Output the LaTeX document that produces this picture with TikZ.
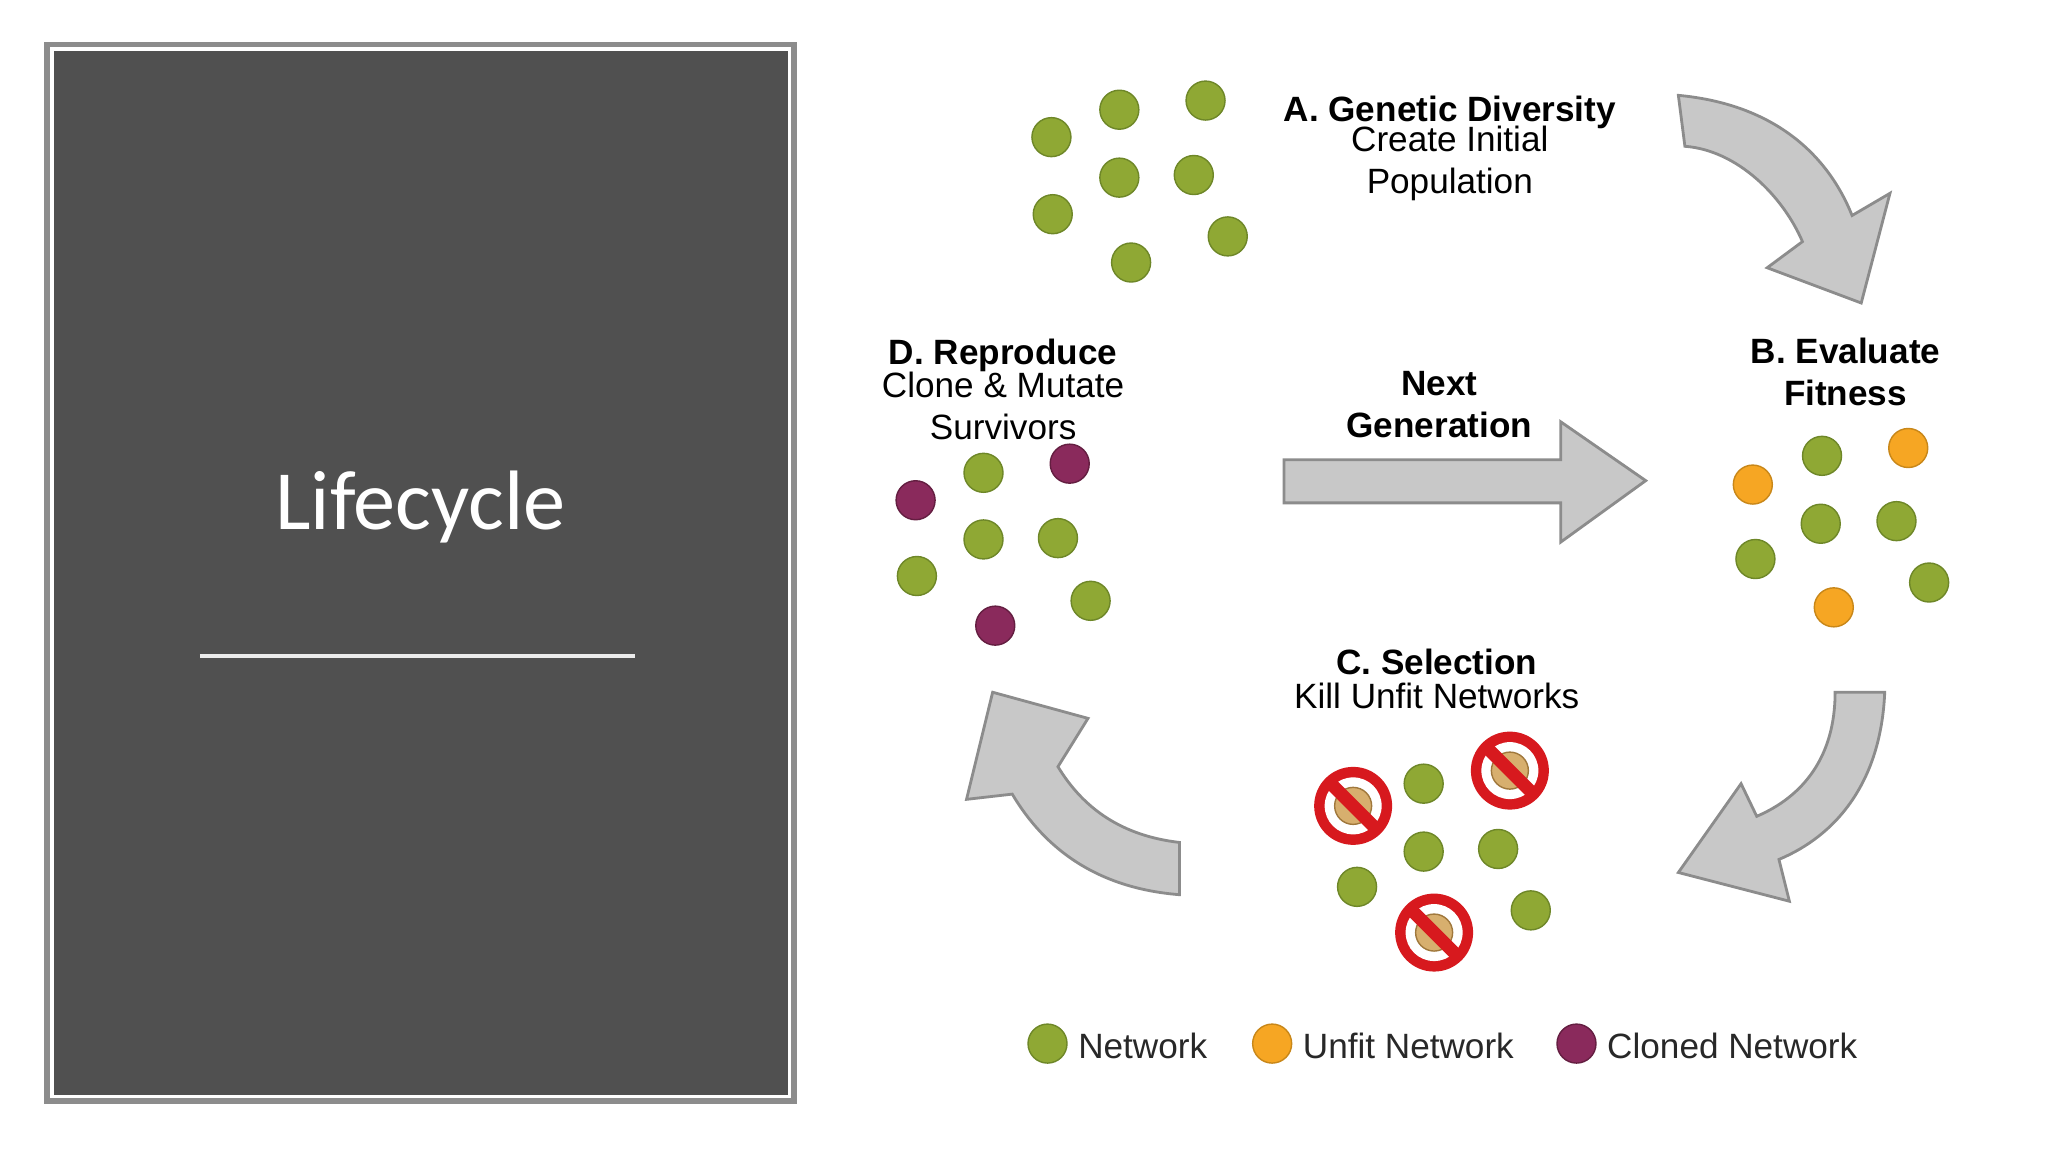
\documentclass[tikz,border=0pt]{standalone}
\usepackage{fontspec}
\setmainfont{Liberation Sans}
\newfontfamily\carl{Carlito}
\definecolor{frame}{RGB}{140,140,140}
\definecolor{panel}{RGB}{80,80,80}
\definecolor{arrfill}{RGB}{200,200,200}
\definecolor{arrline}{RGB}{140,140,140}
\definecolor{gfill}{RGB}{143,168,52}
\definecolor{gline}{RGB}{110,135,40}
\definecolor{ofill}{RGB}{246,166,35}
\definecolor{oline}{RGB}{200,135,25}
\definecolor{pfill}{RGB}{138,42,92}
\definecolor{pline}{RGB}{100,30,65}
\definecolor{tanc}{RGB}{215,175,110}
\definecolor{tanline}{RGB}{160,120,60}
\definecolor{legtext}{RGB}{40,40,40}
\definecolor{killred}{RGB}{215,25,30}
\begin{document}
\begin{tikzpicture}[x=0.013061cm,y=-0.013061cm,
  gdot/.style={circle,minimum size=0.39cm,inner sep=0,fill=gfill,draw=gline,line width=0.4pt},
  odot/.style={gdot,fill=ofill,draw=oline},
  pdot/.style={gdot,fill=pfill,draw=pline},
  bigarrow/.style={fill=arrfill,draw=arrline,line width=0.8pt},
  lbl/.style={font=\fontsize{10}{12}\selectfont,align=center,inner sep=0},
  blbl/.style={lbl,font=\fontsize{10}{12}\selectfont\bfseries},
  leg/.style={font=\fontsize{10}{12}\selectfont,anchor=west,inner sep=0,text=legtext}]
\useasboundingbox (0,0) rectangle (1568,882);
\fill[white] (0,0) rectangle (1568,882);
% left panel
\draw[frame,line width=1.5pt] (36,34) rectangle (608,843);
\fill[panel] (41,39) rectangle (603,838);
\node[text=white,font=\carl\fontsize{24}{28}\selectfont] (title) at (322,388) {Lifecycle};
\coordinate (l1) at (153,502); \coordinate (l2) at (486,502);
\draw[white!85!gray,line width=1.2pt] (l1) -- (l2);
% arrows
\path[bigarrow] (1285,73) .. controls (1360,80) and (1400,120) .. (1418,165) -- (1447,148) -- (1425,232) -- (1353,205) -- (1380,185) .. controls (1365,150) and (1330,115) .. (1290,112) -- cycle;
\path[bigarrow] (1443,530) .. controls (1440,600) and (1405,640) .. (1362,658) -- (1370,690) -- (1285,668) -- (1333,600) -- (1345,625) .. controls (1380,610) and (1405,580) .. (1405,530) -- cycle;
\path[bigarrow] (903,685) .. controls (840,680) and (800,650) .. (775,608) -- (740,612) -- (760,530) -- (833,550) -- (810,587) .. controls (830,620) and (860,640) .. (903,645) -- cycle;
\path[bigarrow] (983,352) -- (1195,352) -- (1195,323) -- (1260,368) -- (1195,415) -- (1195,385) -- (983,385) -- cycle;
% texts
\node[blbl] (ta) at (1110,86) {A. Genetic Diversity};
\node[lbl] (ta2) at (1110,125) {Create Initial\\Population};
\node[blbl] (tb) at (1413,285) {B. Evaluate\\Fitness};
\node[blbl] (tn) at (1102,310) {Next\\Generation};
\node[blbl] (td) at (768,272) {D. Reproduce};
\node[lbl] (td2) at (768,311) {Clone \& Mutate\\Survivors};
\node[blbl] (tc) at (1100,507) {C. Selection};
\node[lbl] (tc2) at (1100,533) {Kill Unfit Networks};
% A dots
\foreach \p [count=\i] in {(805,105),(857,84),(923,77),(857,136),(914,134),(806,164),(940,181),(866,201)} \node[gdot] (a\i) at \p {};
% B dots
\foreach \p [count=\i] in {(1342,371),(1461,343),(1404,465)} \node[odot] (bo\i) at \p {};
\foreach \p [count=\i] in {(1395,349),(1394,401),(1452,399),(1344,428),(1477,446)} \node[gdot] (bg\i) at \p {};
% D dots
\foreach \p [count=\i] in {(701,383),(819,355),(762,479)} \node[pdot] (dp\i) at \p {};
\foreach \p [count=\i] in {(753,362),(753,413),(810,412),(702,441),(835,460)} \node[gdot] (dg\i) at \p {};
% C dots
\foreach \p [count=\i] in {(1090,600),(1090,652),(1147,650),(1039,679),(1172,697)} \node[gdot] (cg\i) at \p {};
\foreach \x/\y [count=\i] in {1036/617,1156/590,1098/714} {
  \node[circle,fill=killred,minimum size=0.78cm,inner sep=0] (k\i) at (\x,\y) {};
  \node[circle,fill=white,minimum size=0.57cm,inner sep=0] (kw\i) at (\x,\y) {};
  \node[circle,fill=tanc,draw=tanline,minimum size=0.37cm,inner sep=0] (kt\i) at (\x,\y) {};
  \node[rectangle,fill=killred,minimum width=0.63cm,minimum height=0.13cm,inner sep=0,rotate=-45] (kb\i) at (\x,\y) {};
}
% legend
\node[gdot] (lg) at (802,799) {};
\node[leg] (lgt) at (825,801) {Network};
\node[odot] (lo) at (974,799) {};
\node[leg] (lot) at (997,801) {Unfit Network};
\node[pdot] (lp) at (1207,799) {};
\node[leg] (lpt) at (1230,801) {Cloned Network};
\end{tikzpicture}
\end{document}
